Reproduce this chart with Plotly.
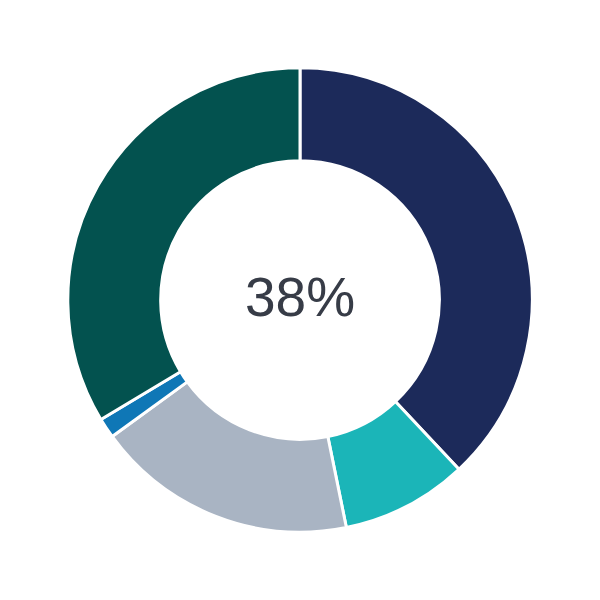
import plotly.graph_objects as go

# slices, clockwise from 12 o'clock
labels = ["Navy", "Teal", "Gray", "Blue", "Green"]
values = [38, 8.8, 18.2, 1.4, 33.6]
colors = ["#1c2a5a", "#1bb5b8", "#a9b4c3", "#0f77b6", "#03524f"]
center_text = "38%"

fig = go.Figure(
    go.Pie(
        labels=labels,
        values=values,
        hole=0.6,
        sort=False,
        direction="clockwise",
        rotation=0,
        marker=dict(colors=colors, line=dict(color="white", width=3)),
        textinfo="none",
        hoverinfo="label+percent",
        domain=dict(x=[0.113, 0.887], y=[0.113, 0.887]),
    )
)

fig.update_layout(
    width=600,
    height=600,
    margin=dict(l=0, r=0, t=0, b=0),
    showlegend=False,
    paper_bgcolor="white",
    annotations=[
        dict(
            text=center_text,
            x=0.5,
            y=0.505,
            xref="paper",
            yref="paper",
            showarrow=False,
            font=dict(family="Liberation Sans, Arial", size=55, color="#373c47"),
        )
    ],
)

# drop the default body margin so the figure sits at the window origin
fig.write_html(
    "out.html",
    config={"displayModeBar": False},
    post_script="document.body.style.margin='0';",
)
